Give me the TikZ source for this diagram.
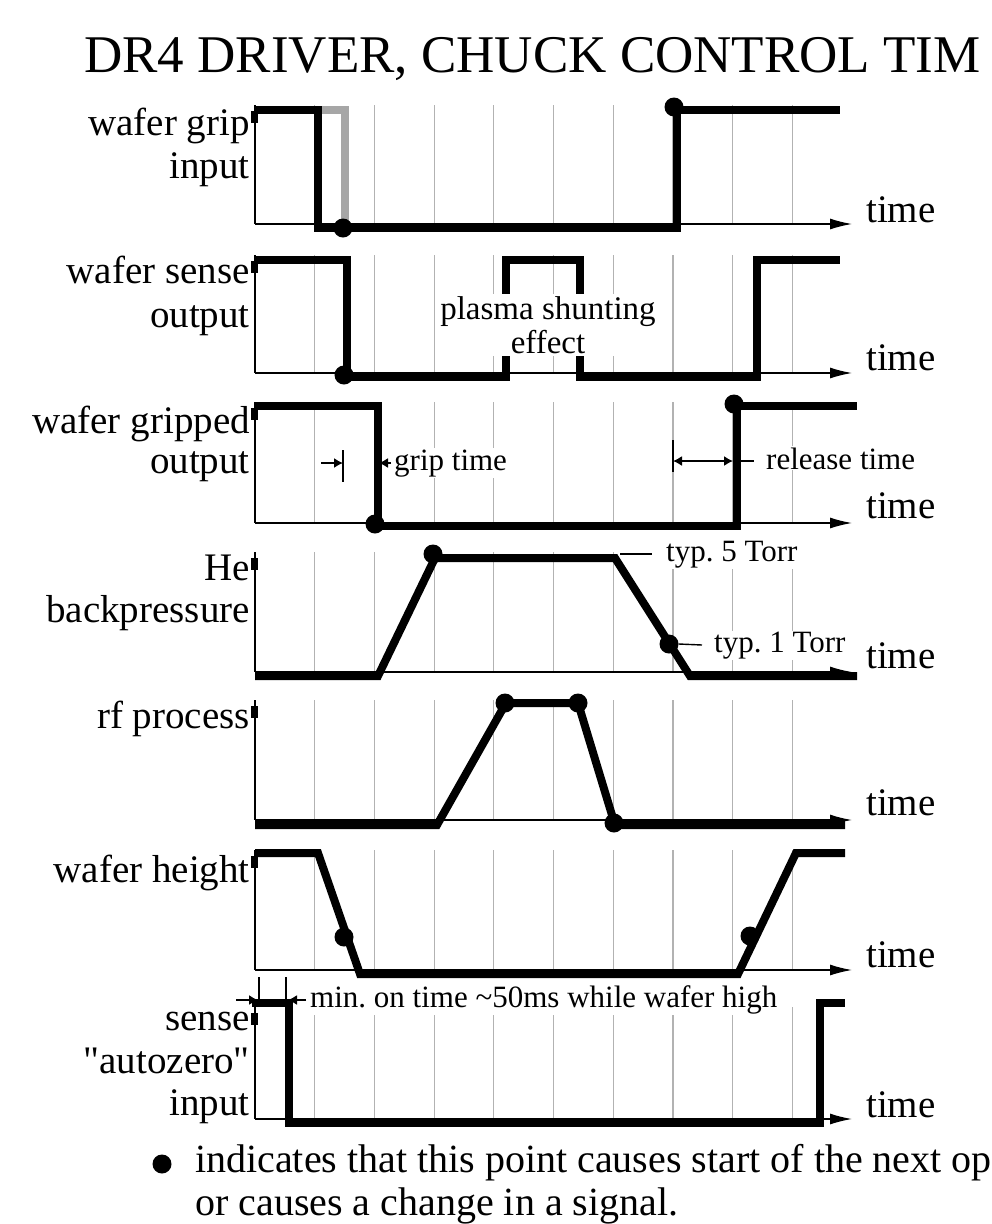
\documentclass[tikz,border=0pt]{standalone}
\usepackage{fontspec}
\setmainfont{Liberation Serif}
\newfontfamily\plainrm{Liberation Serif}
\usetikzlibrary{arrows.meta}
\frenchspacing
\begin{document}
\begin{tikzpicture}[x=1pt, y=-1pt,
  sig/.style={draw=black, line width=8pt},
  sigG/.style={draw=black!35, line width=8pt},
  gridl/.style={draw=black!30, line width=1.2pt},
  yax/.style={draw=black, line width=1.4pt},
  ax/.style={yax, -{Latex[length=22pt,width=11pt]}},
  dim/.style={draw=black, line width=1.4pt},
  dimA/.style={dim, -{Latex[length=9pt,width=10pt]}},
  dot/.style={circle, fill=black, inner sep=0pt, minimum size=19pt},
  lbl/.style={anchor=base east, inner sep=0pt, font=\fontsize{39}{39}\selectfont},
  tm/.style={anchor=base west, inner sep=0pt, font=\fontsize{39}{39}\selectfont},
  nt/.style={anchor=base west, fill=white, inner sep=1pt, font=\fontsize{31}{31}\selectfont}]
\useasboundingbox (0,0) rectangle (991,1224);
\node[anchor=base west, inner sep=0pt, font=\plainrm\fontsize{53}{54}\selectfont] (ttl) at (84,72) {DR4 DRIVER, CHUCK CONTROL TIM};
% seven panels, each one is top/baseline of its axis; nine gray time steps
\foreach \t/\b in {105/224,255/373,402/523,552/672,700/820,850/970,1007/1119}{
  \foreach \k in {1,...,9} \draw[gridl] ({255+59.7*\k},\t) -- ({255+59.7*\k},\b);
  \draw[yax] (255,\t) -- (255,\b);
  \draw[ax] (255,\b) -- (852,\b);
  \fill (251,\t+6) rectangle (258,\t+18);
}
\node[lbl] (l1a) at (250,135) {wafer grip};    \node[lbl] (l1b) at (250,178) {input};
\node[lbl] (l2a) at (250,283) {wafer sense};   \node[lbl] (l2b) at (250,327) {output};
\node[lbl] (l3a) at (250,433) {wafer gripped}; \node[lbl] (l3b) at (250,473) {output};
\node[lbl] (l4a) at (250,580) {He};            \node[lbl] (l4b) at (250,622) {backpressure};
\node[lbl] (l5a) at (250,728) {rf process};
\node[lbl] (l6a) at (250,882) {wafer height};
\node[lbl] (l7a) at (250,1030) {sense}; \node[lbl] (l7b) at (250,1073) {\plainrm "autozero"}; \node[lbl] (l7c) at (250,1115) {input};
\node[tm] (t1) at (866,222) {time}; \node[tm] (t2) at (866,370) {time}; \node[tm] (t3) at (866,518) {time};
\node[tm] (t4) at (866,668) {time}; \node[tm] (t5) at (866,815) {time}; \node[tm] (t6) at (866,967) {time};
\node[tm] (t7) at (866,1117) {time};
% notes sit on white so the grid lines break behind them
\node[nt] (ngrip) at (393,470) {grip time};
\node[nt] (nrel) at (765,469) {release time};
\node[nt] (ntorr5) at (665,561) {typ. 5 Torr};
\node[nt] (ntorr1) at (713,652) {typ. 1 Torr};
\node[nt] (nmin) at (309,1007) {min. on time \textasciitilde50ms while wafer high};
% signals
\draw[sigG] (318,110) -- (345,110) -- (345,228);
\draw[sig] (255,110) -- (318,110) -- (318,228) -- (677,228) -- (677,110) -- (840,110);
\draw[sig] (255,260) -- (347,260) -- (347,377) -- (506,377) -- (506,260) -- (580,260) -- (580,377) -- (757,377) -- (757,260) -- (840,260);
\draw[sig] (255,406) -- (378,406) -- (378,526) -- (737,526) -- (737,406) -- (857,406);
\draw[sig] (255,676) -- (378,676) -- (435,558) -- (615,558) -- (690,676) -- (857,676);
\draw[sig] (255,825) -- (437,825) -- (506,703) -- (578,703) -- (615,825) -- (845,825);
\draw[sig] (255,853) -- (318,853) -- (360,974) -- (738,974) -- (796,853) -- (845,853);
\draw[sig] (252,1003) -- (289,1003) -- (289,1123) -- (820,1123) -- (820,1003) -- (845,1003);
\node[fill=white, inner sep=2pt, align=center, font=\fontsize{33}{34}\selectfont] (nplasma) at (548,325) {plasma shunting\\effect};
% event dots
\node[dot] (g1) at (343,228) {}; \node[dot] (g2) at (674,107) {};
\node[dot] (s1) at (344,375) {};
\node[dot] (p1) at (375,524) {}; \node[dot] (p2) at (734,404) {};
\node[dot] (h1) at (433,554) {}; \node[dot] (h2) at (669,644) {};
\node[dot] (r1) at (505,703) {}; \node[dot] (r2) at (578,703) {}; \node[dot] (r3) at (614,823) {};
\node[dot] (w1) at (344,937) {}; \node[dot] (w2) at (750,936) {};
% dimension marks and leaders
\draw[dim] (343,450) -- (343,482);
\draw[dimA] (321,463) -- (343,463);
\draw[dimA] (391,463) -- (379,463);
\draw[dim] (673,440) -- (673,472);
\draw[dim, {Latex[length=9pt,width=10pt]}-{Latex[length=9pt,width=10pt]}] (673,461) -- (733,461);
\draw[dim] (741,461) -- (754,461);
\draw[dim] (620,554) -- (652,554);
\draw[dim] (h2.east) -- (702,645);
\draw[dim] (259,977) -- (259,1000);
\draw[dim] (286,977) -- (286,1000);
\draw[dimA] (236,1000) -- (258,1000);
\draw[dimA] (306,1000) -- (288,1000);
% legend
\node[dot] (lgd) at (162,1164) {};
\node[anchor=base west, inner sep=0pt, font=\fontsize{40}{40}\selectfont] (lg1) at (195,1172) {indicates that this point causes start of the next op};
\node[anchor=base west, inner sep=0pt, font=\fontsize{40}{40}\selectfont] (lg2) at (195,1215) {or causes a change in a signal.};
\end{tikzpicture}
\end{document}
